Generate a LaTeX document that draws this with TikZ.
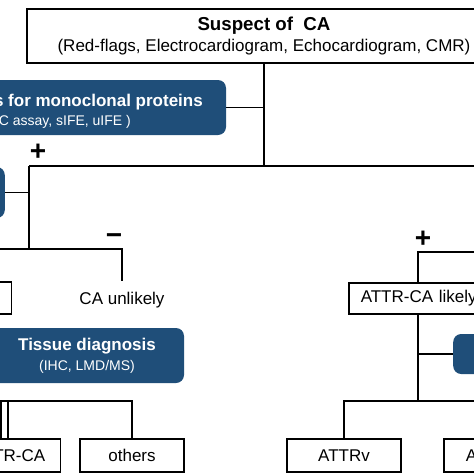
\documentclass[tikz,border=0pt]{standalone}
\usepackage{fontspec}
\setmainfont{Liberation Sans}
\usetikzlibrary{positioning}
\definecolor{boxblue}{RGB}{31,78,121}

\tikzset{
	plainbox/.style={draw, line width=1.5pt, fill=white, inner sep=0pt, font=\fontsize{17}{20}\selectfont},
	bluebox/.style={fill=boxblue, rounded corners=8pt, text=white, inner sep=0pt, font=\fontsize{17}{20}\selectfont},
	link/.style={line width=1.8pt},
	sign/.style={inner sep=0pt, font=\fontsize{28}{28}\selectfont\bfseries}
}

\begin{document}
\begin{tikzpicture}[x=1pt,y=-1pt]
	\useasboundingbox (0,0) rectangle (474,474);
	\clip (0,0) rectangle (474,474);
	% top of the tree
	\node[plainbox, minimum width=474pt, minimum height=54pt, align=center] (suspect) at (264,36)
		{{\fontsize{18.7}{22}\selectfont\bfseries Suspect of\ \ CA}\\[1pt](Red-flags, Electrocardiogram, Echocardiogram, CMR)};
	\node[bluebox, minimum width=286pt, minimum height=55pt] (mono) at (83,107.5) {};
	\node[anchor=base east, inner sep=0pt, text=white, font=\fontsize{17}{20}\selectfont\bfseries] (monotitle) at (203,106) {s for monoclonal proteins};
	\node[anchor=base east, inner sep=0pt, text=white, font=\fontsize{14}{16}\selectfont] (monosub) at (131,125) {C assay, sIFE, uIFE )};
	\node[bluebox, minimum width=60pt, minimum height=51pt, anchor=east] (posbox) at (5,192.5) {};
	% left branch
	\node[plainbox, minimum width=60pt, minimum height=32pt, anchor=east] (leftbox) at (12,298) {};
	\node[anchor=base, inner xsep=0pt, inner ysep=10pt, font=\fontsize{17}{20}\selectfont] (unlikely) at (122,304) {CA unlikely};
	\node[bluebox, minimum width=194pt, minimum height=55pt, align=center] (tissue) at (87,355.5)
		{{\bfseries Tissue diagnosis}\\{\fontsize{14}{16}\selectfont (IHC, LMD/MS)}};
	\node[plainbox, minimum height=33pt, anchor=east, inner xsep=15pt] (trca) at (61,455.5) {TR-CA};
	\node[plainbox, minimum width=104pt, minimum height=33pt] (others) at (132,455.5) {others};
	% right branch
	\node[plainbox, minimum height=31pt, anchor=west, text width=190pt, align=left, inner xsep=12pt] (likely) at (348,298.5) {ATTR-CA likely};
	\node[bluebox, minimum width=120pt, minimum height=40pt, anchor=west] (typing) at (453,354) {};
	\node[plainbox, minimum width=114pt, minimum height=33pt] (attrv) at (344,455.5) {ATTRv};
	\node[plainbox, minimum height=33pt, anchor=west, text width=80pt, align=left, inner xsep=22pt] (abox) at (443,455.5) {A};
	% signs
	\node[sign] (plusA) at (38,152) {+};
	\node[sign] (minusA) at (114,239) {−};
	\node[sign] (plusB) at (423,239) {+};
	% junctions
	\coordinate (posA) at (29,166);
	\coordinate (negA) at (29,249);
	\coordinate (rightA) at (490,166);
	\coordinate (posB) at (418,252);
	\coordinate (rightB) at (490,252);
	\coordinate (splitB) at (418,401);
	\coordinate (rightC) at (490,401);
	\coordinate (splitT) at (-20,401);
	% connectors
	\draw[link] (suspect.south) -- (suspect.south |- posA);
	\draw[link] (mono.east) -- (mono.east -| suspect.south);
	\draw[link] (posA) -- (rightA);
	\draw[link] (posA) -- (negA);
	\draw[link] (posbox.east) -- (posbox.east -| posA);
	\draw[link] (leftbox.north) |- (negA) -| (unlikely.north);
	\draw[link] (likely.north -| posB) -- (posB) -- (rightB);
	\draw[link] (likely.south -| posB) -- (splitB);
	\draw[link] (typing.west) -- (typing.west -| posB);
	\draw[link] (attrv.north) |- (rightC);
	\draw[link] (others.north) |- (splitT);
	\draw[link] (trca.north -| 8,0) -- (8,401);
	\draw[link] (trca.north -| 1,0) -- (1,401);
\end{tikzpicture}
\end{document}
